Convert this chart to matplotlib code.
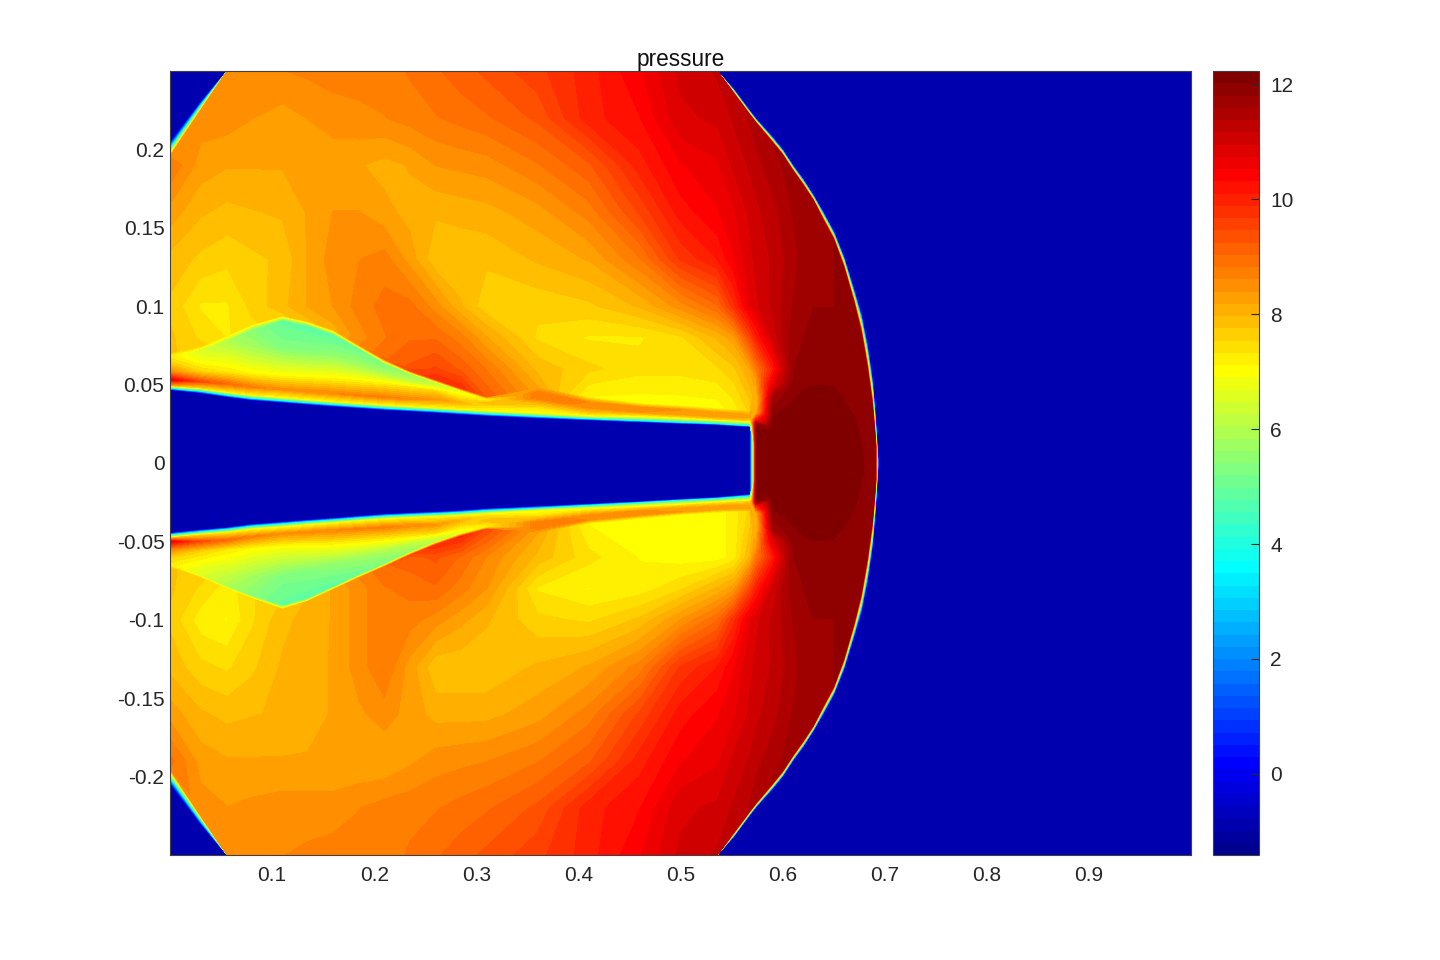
import numpy as np
import matplotlib
matplotlib.use("Agg")
import matplotlib.pyplot as plt
from matplotlib.colors import ListedColormap

plt.rcParams["font.family"] = ["Liberation Sans", "DejaVu Sans"]

BG = -0.84
P_MIN = -1.41
P_MAX = 12.23

# vertical stations of the mesh; head = left of the slit end, tail = right of it
x_head = [0, .03, .056, .08, .11, .135, .16, .185, .21, .235, .26, .285, .31, .36, .41, .46, .5, .536, .552, .568]
x_tail = [.574, .59, .60, .61, .62, .63, .64, .65, .66, .67, .677, .683, .688, .691, .694, 1.0]

# outer shock, blue side and hot side (upper half, lower half is the mirror)
shock_out = [.205, .2305] + [.25] * 16 + [.2385, .2245,
             .2195, .208, .200, .190, .1812, .171, .160, .148, .132, .111, .096, .077, .055, .032, 0, 0]
shock_in = [.195, .2245] + [.25] * 16 + [.2355, .2215,
            .2165, .204, .196, .186, .1768, .167, .154, .142, .124, .101, .082, .059, .035, .012, 0, 0]
shock_p = [8.6, 8.5, 8.6, 8.6, 8.6, 8.65, 8.7, 8.7, 8.7, 8.85, 9.0, 9.15, 9.3, 9.6, 10.0, 10.5, 11.0, 11.2, 11.3, 11.4,
           11.5, 11.6, 11.65, 11.7, 11.75, 11.8, 11.8, 11.8, 11.85, 11.9, 11.9, 11.9, 11.9, 11.9, BG, BG]

# fixed height levels between shock and wedge
mid_levels = [.22, .19, .16, .13, .10, .08, .06]

m22_up = [8.6, 8.5, 8.5, 8.4, 8.3, 8.4, 8.5, 8.55, 8.6, 8.7, 8.8, 8.9, 9.0, 9.3, 10.0, 10.3, 10.9, 11.0, 11.2, 11.4]
m19_up = [8.8, 8.3, 8.2, 8.2, 8.2, 8.2, 8.25, 8.2, 8.1, 8.2, 8.4, 8.45, 8.5, 8.8, 9.2, 10.0, 10.5, 10.7, 11.0, 11.2]
m16_up = [8.3, 8.0, 7.9, 7.95, 8.0, 8.2, 8.4, 8.4, 8.25, 8.1, 8.0, 8.05, 8.1, 8.3, 8.7, 9.5, 10.2, 10.5, 10.7, 11.0]
m13_up = [7.9, 7.7, 7.6, 7.7, 7.8, 8.2, 8.5, 8.6, 8.7, 8.3, 7.8, 7.8, 7.8, 8.0, 8.2, 8.8, 9.7, 10.1, 10.5, 10.9]
m10_up = [7.7, 7.3, 7.3, 7.6, 7.9, 8.2, 8.4, 8.7, 8.9, 8.9, 8.5, 8.0, 7.6, 7.6, 7.7, 8.0, 8.5, 9.0, 9.8, 10.7]
m08_up = [7.8, 7.5, 7.3, 7.5, 7.7, 7.9, 8.1, 8.5, 8.8, 9.0, 9.0, 8.7, 8.2, 7.5, 7.3, 7.3, 7.5, 8.0, 8.3, 9.5]
m06_up = [7.8, 7.6, 7.3, 7.4, 7.6, 7.9, 8.1, 8.6, 9.0, 9.3, 9.5, 9.2, 8.8, 7.9, 7.6, 7.4, 7.4, 7.5, 7.7, 8.2]

m22_lo = [8.8, 8.5, 8.4, 8.45, 8.5, 8.5, 8.5, 8.6, 8.7, 8.75, 8.8, 8.9, 9.0, 9.3, 10.0, 10.3, 10.9, 11.0, 11.2, 11.4]
m19_lo = [8.9, 8.3, 8.2, 8.2, 8.2, 8.2, 8.2, 8.2, 8.2, 8.35, 8.5, 8.55, 8.6, 8.8, 9.2, 10.0, 10.5, 10.7, 11.0, 11.2]
m16_lo = [8.3, 8.0, 7.9, 7.95, 8.0, 8.1, 8.2, 8.35, 8.5, 8.3, 8.1, 8.1, 8.1, 8.3, 8.7, 9.5, 10.2, 10.5, 10.7, 11.0]
m13_lo = [7.9, 7.6, 7.5, 7.7, 8.0, 8.1, 8.2, 8.5, 8.8, 8.3, 7.8, 7.8, 7.8, 8.0, 8.2, 8.7, 9.7, 10.1, 10.5, 10.9]
m10_lo = [7.7, 7.2, 7.1, 7.5, 7.9, 8.05, 8.2, 8.5, 8.8, 8.7, 8.5, 8.25, 8.0, 7.6, 7.5, 7.8, 8.4, 9.0, 9.8, 10.7]
m08_lo = [7.8, 7.5, 7.2, 7.5, 7.8, 8.0, 8.2, 8.5, 8.8, 8.9, 9.0, 8.7, 8.4, 7.3, 7.1, 7.2, 7.5, 8.0, 8.3, 9.5]
m06_lo = [7.8, 7.6, 7.2, 7.5, 7.8, 8.0, 8.2, 8.6, 9.0, 9.15, 9.3, 9.0, 8.6, 7.9, 7.4, 7.1, 7.0, 7.0, 7.2, 8.0]

m22_tail = [11.5, 11.6, 11.65, 11.7, 11.75, 11.8, 11.8, 11.8, 11.85, 11.9, 11.9, 11.9, 11.9, 11.9, BG, BG]
m19_tail = [11.3, 11.5, 11.6, 11.7, 11.75, 11.8, 11.8, 11.8, 11.85, 11.9, 11.9, 11.9, 11.9, 11.9, BG, BG]
m16_tail = [11.1, 11.3, 11.45, 11.6, 11.7, 11.8, 11.8, 11.8, 11.85, 11.9, 11.9, 11.9, 11.9, 11.9, BG, BG]
m13_tail = [11.0, 11.2, 11.35, 11.5, 11.65, 11.8, 11.8, 11.8, 11.85, 11.9, 11.9, 11.9, 11.9, 11.9, BG, BG]
m10_tail = [10.9, 11.2, 11.4, 11.6, 11.7, 11.8, 11.8, 11.8, 11.85, 11.9, 11.9, 11.9, 11.9, 11.9, BG, BG]
m08_tail = [10.0, 11.0, 11.4, 11.7, 11.8, 11.9, 11.9, 11.9, 11.9, 11.9, 11.9, 11.9, 11.9, 11.9, BG, BG]
m06_tail = [8.8, 10.0, 11.0, 11.8, 11.85, 11.9, 11.9, 11.9, 11.9, 11.9, 11.9, 11.9, 11.9, 11.9, BG, BG]

# wedge and slit layers, heights
e_up = [.0705, .0745, .0815, .0885, .094, .0905, .085, .0755, .0665, .059, .0535, .048, .0425, .048, .042, .038, .0365, .035, .034, .033]
f_up = [.0685, .072, .078, .085, .091, .0875, .082, .073, .0635, .057, .0515, .046, .0412, .0445, .0385, .0355, .034, .032, .0315, .0305]
g_up = [.064, .066, .072, .074, .074, .071, .068, .0625, .057, .052, .0485, .044, .0395, .0415, .0355, .0325, .031, .0295, .029, .0285]
h_up = [.058, .058, .058, .057, .056, .0545, .053, .0515, .05, .048, .0455, .041, .038, .038, .0325, .031, .0295, .028, .0275, .027]
i_up = [.053, .052, .0505, .0485, .047, .0457, .0445, .0432, .042, .041, .0405, .0385, .036, .0345, .0308, .0295, .0283, .0272, .0268, .0262]
j_up = [.0495, .048, .0455, .0435, .042, .0407, .0395, .0384, .0373, .0364, .0355, .0345, .0335, .032, .0295, .0285, .0275, .0265, .0258, .0252]
k_up = [.0478, .046, .0435, .0415, .040, .0387, .0375, .0364, .0353, .0344, .0335, .0325, .0315, .030, .0285, .0272, .0262, .0253, .0246, .024]
l_up = [.0465, .0445, .042, .040, .0385, .0372, .036, .0349, .0338, .0329, .032, .031, .030, .0285, .0272, .026, .025, .0243, .0236, .023]

e_lo = [-.067, -.0735, -.0805, -.0865, -.0935, -.0885, -.081, -.0735, -.0665, -.059, -.0525, -.047, -.0425, -.044, -.0385, -.0355, -.033, -.0315, -.031, -.0305]
f_lo = [-.0655, -.072, -.079, -.085, -.091, -.0865, -.079, -.0715, -.0645, -.057, -.0505, -.045, -.0412, -.0415, -.036, -.033, -.031, -.0295, -.029, -.0285]
g_lo = [-.06, -.065, -.07, -.072, -.072, -.068, -.064, -.06, -.056, -.051, -.047, -.0425, -.039, -.038, -.0335, -.0305, -.029, -.0275, -.027, -.0265]
h_lo = [-.055, -.056, -.055, -.054, -.053, -.052, -.051, -.0495, -.048, -.046, -.044, -.04, -.0365, -.0355, -.0315, -.029, -.0272, -.0258, -.0252, -.0245]
i_lo = [-.05, -.05, -.049, -.047, -.045, -.044, -.043, -.042, -.041, -.04, -.0395, -.0365, -.034, -.033, -.0298, -.0275, -.0262, -.0245, -.024, -.0235]
j_lo = [-.048, -.046, -.0445, -.0425, -.041, -.0397, -.0385, -.0372, -.036, -.0352, -.0345, -.0337, -.0325, -.0305, -.0285, -.0265, -.025, -.024, -.0232, -.0225]
k_lo = [-.046, -.044, -.0425, -.0405, -.039, -.0377, -.0365, -.0352, -.034, -.0332, -.0325, -.0317, -.0305, -.029, -.0272, -.0255, -.024, -.0228, -.022, -.0212]
l_lo = [-.0445, -.0425, -.041, -.039, -.0375, -.0362, -.035, -.0337, -.0325, -.0317, -.031, -.0302, -.029, -.0275, -.026, -.0245, -.023, -.0218, -.0208, -.02]

e_tail = [.055, .048, .05, .052, .054, .056, .056, .056, .05, .040, .034, .030, .020, .010, 0, 0]
f_tail = [.040, .042, .0445, .047, .049, .050, .0498, .049, .042, .033, .022, .014, .010, .006, 0, 0]
g_tail = [.032, .030, .032, .035, .040, .045, .045, .045, .037, .028, .016, .010, .007, .004, 0, 0]
h_tail = [.0275, .022, .023, .025, .028, .030, .030, .030, .025, .020, .012, .007, .005, .003, 0, 0]
i_tail = [.025, .017, .017, .018, .019, .020, .020, .020, .017, .014, .008, .005, .003, .002, 0, 0]
j_tail = [.023, .012, .012, .012, .012, .012, .012, .012, .010, .009, .005, .003, .002, .001, 0, 0]
k_tail = [.016, .007, .007, .006, .006, .006, .006, .006, .005, .005, .003, .002, .001, .0005, 0, 0]
l_tail = [.008, .003, .003, .003, .003, .003, .003, .003, .002, .002, .001, .001, .0005, .0002, 0, 0]

# wedge and slit layers, pressures
e_p_up = [7.7, 7.5, 7.3, 7.4, 7.6, 7.8, 8.0, 8.6, 9.1, 9.5, 9.8, 9.8, 9.2, 8.2, 7.1, 7.0, 7.0, 7.0, 7.2, 7.6]
e_p_lo = [7.8, 7.6, 7.2, 7.4, 7.8, 8.0, 8.2, 8.6, 9.0, 9.4, 9.8, 9.9, 9.4, 8.2, 7.1, 7.0, 7.0, 7.0, 7.2, 7.6]
f_p = [7.2, 6.5, 5.9, 5.4, 4.9, 4.8, 4.8, 5.0, 5.2, 5.6, 6.0, 6.5, 7.3, 8.8, 8.6, 8.5, 8.4, 8.3, 8.3, 8.3]
g_p = [7.6, 6.8, 6.3, 5.8, 5.3, 5.4, 5.6, 5.75, 5.9, 6.2, 6.6, 7.0, 7.3, 8.8, 8.5, 8.4, 8.3, 8.2, 8.2, 8.1]
h_p = [8.6, 7.6, 7.3, 7.1, 7.0, 7.1, 7.2, 7.25, 7.3, 7.4, 7.6, 7.4, 7.9, 7.9, 7.8, 7.6, 7.5, 7.5, 7.5, 7.5]
i_p = [10.6, 9.4, 9.0, 8.7, 8.5, 8.55, 8.6, 8.65, 8.7, 8.55, 8.4, 8.0, 7.4, 7.2, 7.2, 6.8, 6.5, 6.5, 6.5, 6.5]
j_p = [8.0, 7.5, 7.2, 7.1, 7.0, 7.05, 7.1, 7.1, 7.1, 7.1, 7.1, 7.1, 7.0, 7.0, 6.0, 5.5, 5.5, 5.5, 5.5, 5.5]
k_p = [3.7] * 20
l_p = [BG] * 20

e_p_tail = [8.4, 10.8, 11.3, 11.8, 11.85, 11.9, 11.9, 11.9, 11.9, 11.9, 11.9, 11.9, 11.8, 11.8, BG, BG]
f_p_tail = [7.8, 11.6, 11.75, 11.9, 11.95, 12.0, 12.0, 12.0, 11.95, 11.9, 11.9, 11.9, 11.85, 11.8, BG, BG]
g_p_tail = [8.0, 12.0, 12.05, 12.1, 12.15, 12.15, 12.15, 12.15, 12.15, 12.1, 11.98, 11.95, 11.9, 11.8, BG, BG]
h_p_tail = [10.0, 12.1, 12.15, 12.2, 12.2, 12.2, 12.2, 12.2, 12.2, 12.2, 12.0, 11.95, 11.9, 11.8, BG, BG]
i_p_tail = [11.8, 12.2, 12.2, 12.2, 12.2, 12.2, 12.2, 12.2, 12.2, 12.2, 12.05, 11.95, 11.9, 11.8, BG, BG]
j_p_tail = [12.1, 12.2, 12.2, 12.2, 12.2, 12.2, 12.2, 12.2, 12.2, 12.2, 12.05, 11.95, 11.9, 11.8, BG, BG]
k_p_tail = [12.2, 12.2, 12.2, 12.2, 12.2, 12.2, 12.2, 12.2, 12.2, 12.2, 12.05, 11.95, 11.9, 11.8, BG, BG]
l_p_tail = [12.2, 12.2, 12.2, 12.2, 12.2, 12.2, 12.2, 12.2, 12.2, 12.2, 12.05, 11.95, 11.9, 11.8, BG, BG]
centre_p = [BG] * 20 + l_p_tail

x_ticks = [.1, .2, .3, .4, .5, .6, .7, .8, .9]
x_tick_labels = ["0.1", "0.2", "0.3", "0.4", "0.5", "0.6", "0.7", "0.8", "0.9"]
y_ticks = [-.2, -.15, -.1, -.05, 0, .05, .1, .15, .2]
y_tick_labels = ["-0.2", "-0.15", "-0.1", "-0.05", "0", "0.05", "0.1", "0.15", "0.2"]
bar_ticks = [0, 2, 4, 6, 8, 10, 12]

stations = np.array(x_head + x_tail)
n = len(stations)


def build_half(sign, wedge_y, wedge_p, mid_p):
    """Rows from the axes edge to the centre line, for one half of the mesh."""
    hot = np.array(shock_in)
    e_y = np.abs(np.array(wedge_y[0] + e_tail))

    rows_y = [np.full(n, .25), np.array(shock_out), hot]
    rows_p = [np.full(n, BG), np.full(n, BG), np.array(shock_p)]
    for level, p_row in zip(mid_levels, mid_p):
        rows_y.append(np.clip(level, e_y, hot))
        rows_p.append(np.array(p_row))
    rows_y.append(e_y)
    rows_p.append(np.array(wedge_p + e_p_tail))

    layer_tails = [f_tail, g_tail, h_tail, i_tail, j_tail, k_tail, l_tail]
    layer_p = [f_p + f_p_tail, g_p + g_p_tail, h_p + h_p_tail, i_p + i_p_tail,
               j_p + j_p_tail, k_p + k_p_tail, l_p + l_p_tail]
    for head_y, tail_y, p_row in zip(wedge_y[1:], layer_tails, layer_p):
        rows_y.append(np.abs(np.array(head_y + tail_y)))
        rows_p.append(np.array(p_row))
    return sign * np.array(rows_y), np.array(rows_p)


tails_mid = [m22_tail, m19_tail, m16_tail, m13_tail, m10_tail, m08_tail, m06_tail]
mid_up = [a + b for a, b in zip([m22_up, m19_up, m16_up, m13_up, m10_up, m08_up, m06_up], tails_mid)]
mid_lo = [a + b for a, b in zip([m22_lo, m19_lo, m16_lo, m13_lo, m10_lo, m08_lo, m06_lo], tails_mid)]

y_up, p_up = build_half(1, [e_up, f_up, g_up, h_up, i_up, j_up, k_up, l_up], e_p_up, mid_up)
y_lo, p_lo = build_half(-1, [e_lo, f_lo, g_lo, h_lo, i_lo, j_lo, k_lo, l_lo], e_p_lo, mid_lo)

Y = np.vstack([y_up, np.zeros(n), y_lo[::-1]])
P = np.vstack([p_up, np.array(centre_p), p_lo[::-1]])
X = np.tile(stations, (Y.shape[0], 1))

# MATLAB's jet(64), matplotlib's own jet has other break points
i = np.arange(1, 65)
jet64 = ListedColormap(np.column_stack([
    np.clip(np.minimum((i - 24) / 16, (72 - i) / 16), 0, 1),
    np.clip(np.minimum((i - 8) / 16, (56 - i) / 16), 0, 1),
    np.clip(np.minimum((i + 8) / 16, (40 - i) / 16), 0, 1),
]))

W, H = 1440, 960
fig = plt.figure(figsize=(14.4, 9.6), dpi=100)
ax = fig.add_axes([170 / W, 1 - 855 / H, 1021 / W, 784 / H])
cax = fig.add_axes([1213 / W, 1 - 855 / H, 46 / W, 784 / H])

levels = np.linspace(P_MIN, P_MAX, 65)
cs = ax.contourf(X, Y, P, levels=levels, cmap=jet64, vmin=P_MIN, vmax=P_MAX, antialiased=False)
ax.set_xlim(0, 1)
ax.set_ylim(-.25, .25)
ax.set_xticks(x_ticks, x_tick_labels)
ax.set_yticks(y_ticks, y_tick_labels)
ax.tick_params(axis="x", length=0, labelsize=15, labelcolor="#262626", pad=8)
ax.tick_params(axis="y", length=0, labelsize=15, labelcolor="#262626", pad=4)
ax.set_title("pressure", fontsize=16.3, color="#111111", pad=0)
for spine in ax.spines.values():
    spine.set_color("#404040")
    spine.set_linewidth(0.8)

cb = fig.colorbar(cs, cax=cax, ticks=bar_ticks)
cb.ax.tick_params(direction="in", length=6, width=0.8, color="#262626",
                  labelsize=15, labelcolor="#262626", pad=8)
cb.ax.minorticks_off()
cb.outline.set_edgecolor("#404040")
cb.outline.set_linewidth(0.8)

fig.savefig("out.png", dpi=100)
